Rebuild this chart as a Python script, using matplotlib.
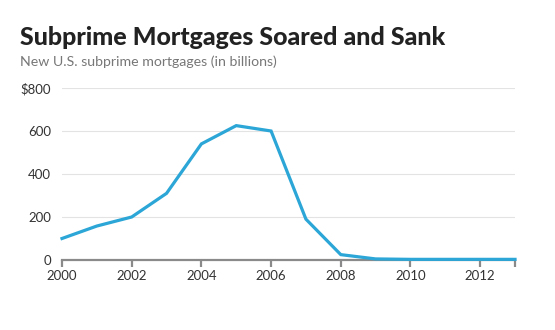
import matplotlib

matplotlib.use("Agg")
import matplotlib.pyplot as plt

years = [2000, 2001, 2002, 2003, 2004, 2005, 2006, 2007, 2008, 2009, 2010, 2011, 2012, 2013]
subprime_billions = [100, 158, 200, 310, 540, 625, 600, 190, 25, 5, 3, 3, 3, 3]
y_ticks = [0, 200, 400, 600, 800]
y_tick_labels = ["0", "200", "400", "600", "$800"]
x_ticks = [2000, 2002, 2004, 2006, 2008, 2010, 2012]

plt.rcParams["font.family"] = ["Lato", "DejaVu Sans"]

fig = plt.figure(figsize=(5.55, 3.3), dpi=100)
ax = fig.add_axes([62 / 555, 1 - 260 / 330, 453 / 555, 172 / 330])

ax.plot(years, subprime_billions, color="#2ba6d6", linewidth=2.3,
        solid_joinstyle="miter", zorder=3, clip_on=False)

ax.set_xlim(2000, 2013)
ax.set_ylim(0, 800)
ax.set_yticks(y_ticks)
ax.set_yticklabels(y_tick_labels)
ax.set_xticks(x_ticks + [2013])
ax.set_xticklabels([str(y) for y in x_ticks] + [""])

ax.grid(axis="y", color="#e3e3e3", linewidth=0.8)
ax.set_axisbelow(True)
for side in ("top", "right", "left"):
    ax.spines[side].set_visible(False)
ax.spines["bottom"].set_color("#8a8a8a")
ax.spines["bottom"].set_linewidth(1.6)
ax.tick_params(axis="x", length=5, width=1.6, color="#8a8a8a",
               labelsize=9.5, labelcolor="#333333", pad=2)
ax.tick_params(axis="y", length=0, labelsize=9.5, labelcolor="#333333", pad=8)

fig.text(20 / 555, 1 - 45 / 330, "Subprime Mortgages Soared and Sank",
         fontsize=18, fontweight="black", color="#222222")
fig.text(20 / 555, 1 - 66 / 330, "New U.S. subprime mortgages (in billions)",
         fontsize=10.2, color="#777777")

fig.savefig("out.png", dpi=100)
